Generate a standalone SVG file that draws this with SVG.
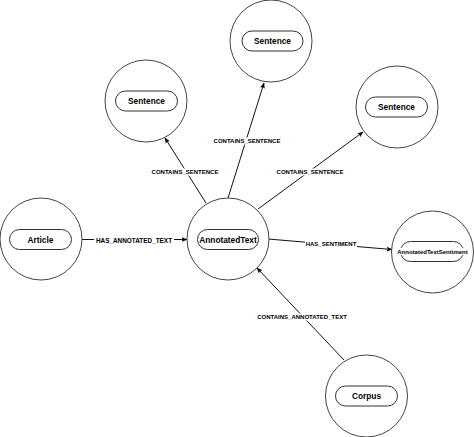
<svg xmlns="http://www.w3.org/2000/svg" width="474" height="437" viewBox="0 0 474 437">
<defs>
<style>
.circle{fill:#fff;stroke:#444;stroke-width:1}
.pill{fill:#fff;stroke:#333;stroke-width:1}
.nlabel{font-family:"Liberation Sans",Arial,sans-serif;font-weight:bold;font-size:8.3px;fill:#000;text-anchor:middle;dominant-baseline:central}
.small{font-size:6px}
.edge{stroke:#111;stroke-width:1;fill:none;marker-end:url(#arrow)}
.elabel{font-family:"Liberation Sans",Arial,sans-serif;font-weight:bold;font-size:6px;fill:#000;text-anchor:middle;dominant-baseline:central}
.lbg{fill:#fff}
</style>
<marker id="arrow" viewBox="0 0 10 10" refX="9" refY="5" markerWidth="6" markerHeight="6" markerUnits="userSpaceOnUse" orient="auto">
<path d="M0,1 L10,5 L0,9 L2,5 Z" fill="#000"/>
</marker>
</defs>
<rect width="474" height="437" fill="#fff"/>
<g id="connectors">
<line class="edge" x1="82" y1="239.5" x2="187" y2="239.5"/>
<line class="edge" x1="268" y1="239" x2="392" y2="249.5"/>
<line class="edge" x1="206" y1="203" x2="165" y2="138"/>
<line class="edge" x1="228" y1="198" x2="264" y2="83"/>
<line class="edge" x1="258" y1="209" x2="363" y2="132"/>
<line class="edge" x1="344" y1="360" x2="257" y2="268"/>
<rect class="lbg" x="94" y="236" width="80" height="8"/>
<text class="elabel" x="134" y="240" style="font-size:6.4px">HAS_ANNOTATED_TEXT</text>
<rect class="lbg" x="305" y="240.5" width="52" height="7"/>
<text class="elabel" x="331" y="244">HAS_SENTIMENT</text>
<rect class="lbg" x="151" y="168.5" width="68" height="7"/>
<text class="elabel" x="185" y="172">CONTAINS_SENTENCE</text>
<rect class="lbg" x="213" y="137.5" width="68" height="7"/>
<text class="elabel" x="247" y="141">CONTAINS_SENTENCE</text>
<rect class="lbg" x="276" y="168.5" width="68" height="7"/>
<text class="elabel" x="310" y="172">CONTAINS_SENTENCE</text>
<rect class="lbg" x="256" y="313.5" width="92" height="7"/>
<text class="elabel" x="302" y="317">CONTAINS_ANNOTATED_TEXT</text>
</g>
<g id="node-article">
<circle class="circle" cx="41" cy="239" r="41"/>
<rect class="pill" x="9.5" y="229.5" width="62" height="20" rx="10"/>
<text class="nlabel" x="40.5" y="239.5">Article</text>
</g>
<g id="node-annotatedtext">
<circle class="circle" cx="228" cy="239" r="41"/>
<rect class="pill" x="197.5" y="229.5" width="61" height="20" rx="10"/>
<text class="nlabel" x="228" y="239.5">AnnotatedText</text>
</g>
<g id="node-sentence-left">
<circle class="circle" cx="146" cy="101" r="41"/>
<rect class="pill" x="115.5" y="91" width="62" height="20" rx="10"/>
<text class="nlabel" x="146.5" y="101">Sentence</text>
</g>
<g id="node-sentence-top">
<circle class="circle" cx="271" cy="41" r="41"/>
<rect class="pill" x="242" y="31" width="61" height="20" rx="10"/>
<text class="nlabel" x="272.5" y="41">Sentence</text>
</g>
<g id="node-sentence-right">
<circle class="circle" cx="397" cy="107" r="41"/>
<rect class="pill" x="365.5" y="97" width="62" height="20" rx="10"/>
<text class="nlabel" x="396.5" y="107">Sentence</text>
</g>
<g id="node-sentiment">
<circle class="circle" cx="432.5" cy="252" r="41"/>
<rect class="pill" x="400.5" y="241.5" width="63" height="20" rx="10"/>
<rect class="lbg" x="396.5" y="248" width="72" height="7"/>
<text class="nlabel small" x="432.5" y="251.5">AnnotatedTextSentiment</text>
</g>
<g id="node-corpus">
<circle class="circle" cx="366.5" cy="396" r="41"/>
<rect class="pill" x="335.5" y="386" width="62" height="20" rx="10"/>
<text class="nlabel" x="366.5" y="396">Corpus</text>
</g>
</svg>
